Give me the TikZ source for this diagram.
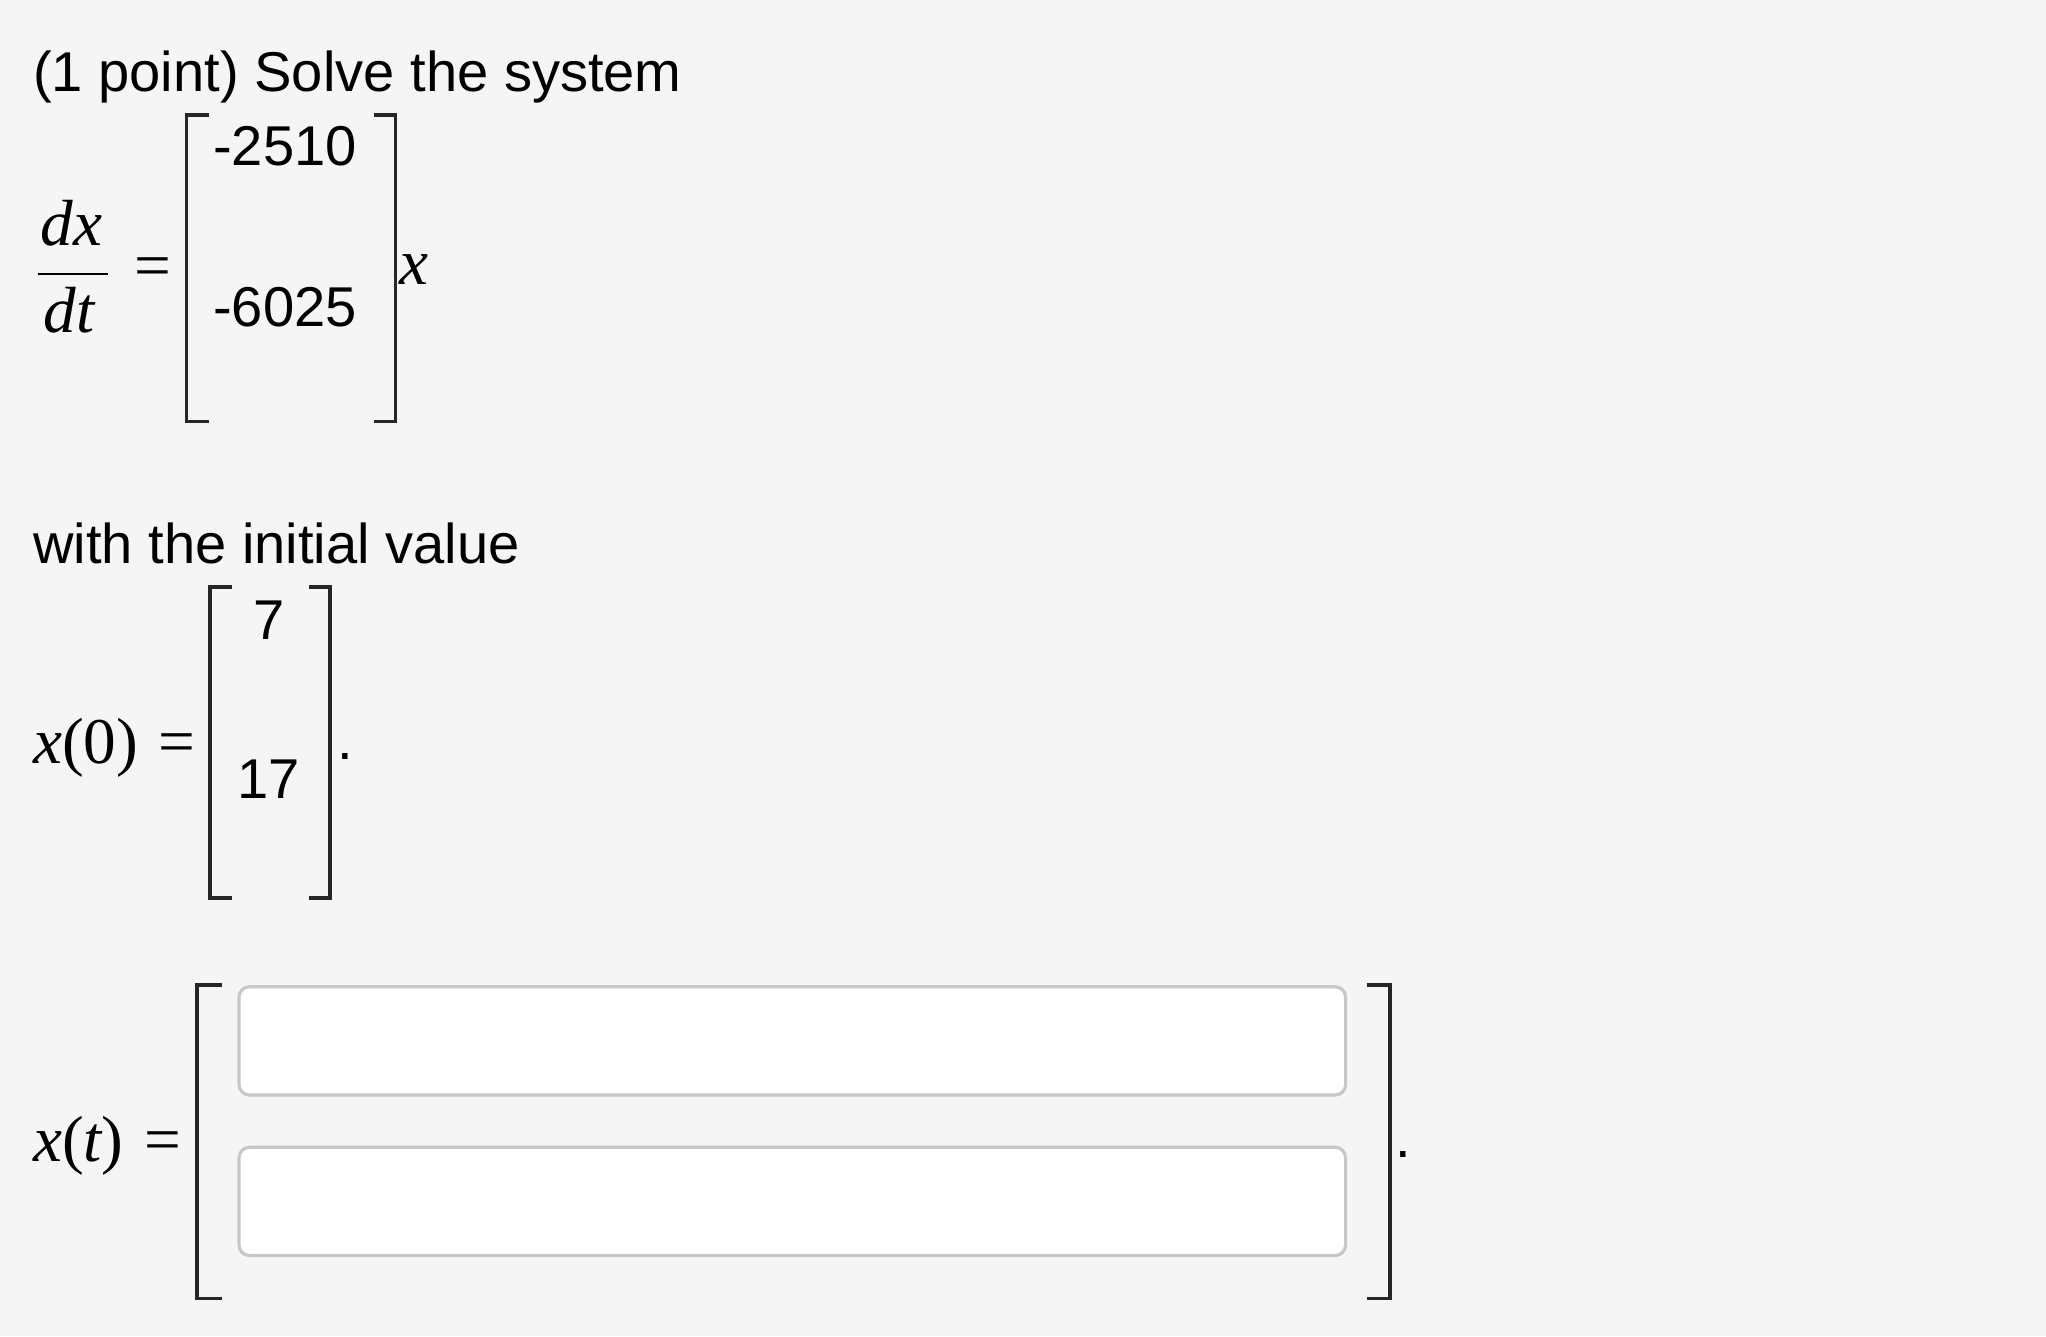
\documentclass[tikz,border=0pt]{standalone}
\usepackage{fontspec}
\setmainfont{Liberation Sans}
\newfontfamily\mathserif{Liberation Serif}
\begin{document}
\begin{tikzpicture}[x=0.5pt,y=-0.5pt,
  txt/.style={inner sep=0pt,anchor=base west,font=\fontsize{21.5}{24}\selectfont},
  mth/.style={inner sep=0pt,anchor=base west,font=\fontsize{25}{28}\selectfont\mathserif\itshape},
  mrm/.style={inner sep=0pt,anchor=base west,font=\fontsize{25}{28}\selectfont\mathserif},
  brk/.style={line width=1.4pt,black!85},
  ansbox/.style={draw=black!22,line width=1.2pt,fill=white,rounded corners=4pt}]
\fill[fill={rgb,255:red,245;green,245;blue,245}] (0,0) rectangle (1568,1024);
\node[txt] (title) at (25,70) {(1 point) Solve the system};
% dx/dt
\node[mth] (dx) at (31,188) {dx};
\node[mth] (dt) at (33,255) {dt};
\draw[line width=1pt] (29,210) -- (83,210);
\node[mrm] (eq1) at (103,220) {=};
\draw[brk] (160,88) -- (143,88) -- (143,323) -- (160,323);
\draw[brk] (287,88) -- (303,88) -- (303,323) -- (287,323);
\node[txt] (a11) at (163,127) {-2510};
\node[txt] (a21) at (163,250) {-6025};
\node[mth] (xv) at (306,218) {x};
% initial value
\node[txt] (init) at (25,432) {with the initial value};
\node[mrm] (x0) at (25,585) {\itshape x\upshape(0)};
\node[mrm] (eq2) at (121,585) {=};
\draw[brk] (178,450) -- (161,450) -- (161,688) -- (178,688);
\draw[brk] (237,450) -- (253,450) -- (253,688) -- (237,688);
\node[txt,anchor=base] (v1) at (206,490) {7};
\node[txt,anchor=base] (v2) at (206,612) {17};
\node[txt] (p1) at (258,582) {.};
% answer
\node[mrm] (xt) at (25,890) {\itshape x\upshape(\itshape t\upshape)};
\node[mrm] (eq3) at (110,890) {=};
\draw[brk] (170,755) -- (151,755) -- (151,995) -- (170,995);
\draw[brk] (1048,755) -- (1065,755) -- (1065,995) -- (1048,995);
\node[ansbox,minimum width=424pt,minimum height=41.5pt,anchor=north west] (b1) at (182,755) {};
\node[ansbox,minimum width=424pt,minimum height=41.5pt,anchor=north west] (b2) at (182,878) {};
\node[txt] (p2) at (1069,887) {.};
\end{tikzpicture}
\end{document}
